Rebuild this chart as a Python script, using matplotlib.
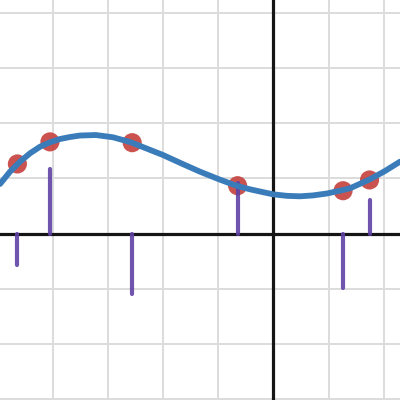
import matplotlib
matplotlib.use("Agg")
import matplotlib.pyplot as plt

# red data points
pt_x = [-4.64, -4.05, -2.56, -0.65, 1.26, 1.74]
pt_y = [1.26, 1.66, 1.645, 0.866, 0.775, 0.97]

# purple vertical segments (from y=0)
seg_x = [-4.64, -4.05, -2.56, -0.65, 1.26, 1.74]
seg_y = [-0.566, 1.174, -1.096, 0.915, -0.987, 0.601]

# blue curve
curve_x = [-4.955, -4.774, -4.592, -4.411, -4.230, -4.049, -3.868, -3.687, -3.505,
           -3.216, -2.908, -2.600, -2.002, -1.694, -1.332, -0.987, -0.661, -0.426,
           -0.245, -0.009, 0.245, 0.480, 0.716, 0.969, 1.259, 1.386, 1.748, 2.020, 2.292]
curve_y = [0.897, 1.120, 1.301, 1.453, 1.572, 1.652, 1.712, 1.748, 1.775,
           1.784, 1.743, 1.658, 1.422, 1.281, 1.120, 0.982, 0.861, 0.801,
           0.761, 0.710, 0.682, 0.674, 0.690, 0.725, 0.788, 0.819, 0.982, 1.132, 1.301]

fig = plt.figure(figsize=(4, 4), dpi=100)
ax = fig.add_axes([0, 0, 1, 1])
ax.set_xlim(-4.955, 2.292)
ax.set_ylim(-3.016, 4.230)
ax.set_xticks(range(-4, 3))
ax.set_yticks(range(-3, 5))
ax.grid(True, color="#dcdcdc", lw=1.4, zorder=0)
ax.set_axisbelow(True)
ax.tick_params(length=0, labelbottom=False, labelleft=False)
for s in ax.spines.values():
    s.set_visible(False)
ax.axhline(0, color="#151515", lw=2.3, zorder=1)
ax.axvline(0, color="#151515", lw=2.3, zorder=1)

ax.scatter(pt_x, pt_y, s=190, color="#c74440", alpha=0.92, edgecolors="none", zorder=3)
ax.vlines(seg_x, 0, seg_y, color="#6042a6", lw=3.0, alpha=0.9, zorder=4, capstyle="round")
ax.plot(curve_x, curve_y, color="#3a7cba", lw=4.2, solid_joinstyle="round",
        solid_capstyle="round", zorder=5)

fig.savefig("out.png", dpi=100)
